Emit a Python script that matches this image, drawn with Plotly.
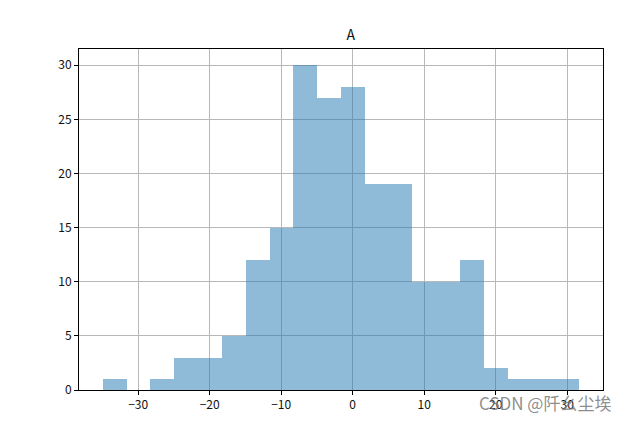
import plotly.graph_objects as go

# Histogram of column "A": 20 bins
bin_start = -34.94
bin_width = 3.33
counts = [1, 0, 1, 3, 3, 5, 12, 15, 30, 27, 28, 19, 19, 10, 10, 12, 2, 1, 1, 1]
x_ticks = [-30, -20, -10, 0, 10, 20, 30]
y_ticks = [0, 5, 10, 15, 20, 25, 30]
title_text = "A"
watermark = "CSDN @阡幺尘埃"

centers = [bin_start + bin_width * (i + 0.5) for i in range(len(counts))]

fig = go.Figure()
fig.add_trace(go.Bar(
    x=centers, y=counts, width=[bin_width] * len(counts),
    marker=dict(color="rgba(31,119,180,0.5)", line=dict(width=0)),
    showlegend=False,
))

font_family = "Noto Sans CJK SC, DejaVu Sans, sans-serif"
axis_common = dict(
    showgrid=True, gridcolor="#b8b8b8", gridwidth=1,
    showline=True, linecolor="black", linewidth=1, mirror=True,
    ticks="outside", ticklen=4, tickwidth=1, tickcolor="black",
    zeroline=False,
    tickfont=dict(family=font_family, size=12, color="#111111"),
)

fig.update_layout(
    width=629, height=421,
    margin=dict(l=71, r=34, t=41, b=39),
    paper_bgcolor="white", plot_bgcolor="white",
    bargap=0,
    title=dict(text=title_text, x=0.545, xanchor="center", y=0.936, yanchor="middle",
               font=dict(family=font_family, size=14, color="#111111")),
    xaxis=dict(range=[-38.27, 35.0], tickvals=x_ticks, **axis_common),
    yaxis=dict(range=[0, 31.5], tickvals=y_ticks, **axis_common),
    annotations=[dict(
        text=watermark, xref="paper", yref="paper", x=1.02, y=-0.036,
        xanchor="right", yanchor="middle", showarrow=False,
        font=dict(family=font_family, size=17, color="rgba(120,120,120,0.85)"),
    )],
)

fig.write_html("out.html")
